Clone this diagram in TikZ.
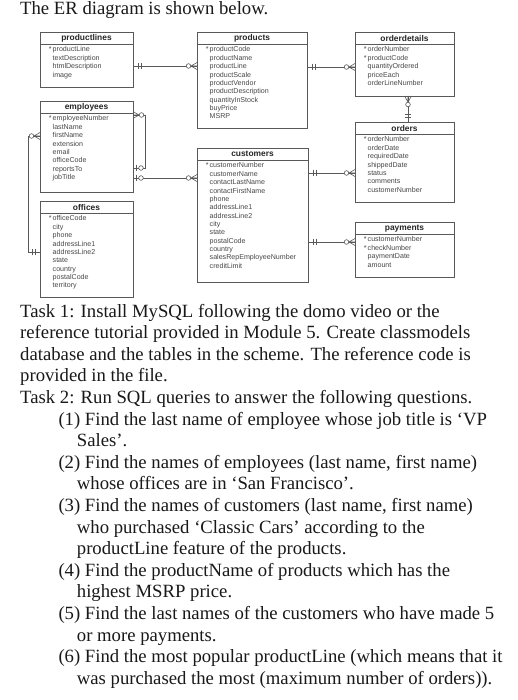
\documentclass[tikz,border=0pt]{standalone}
\usepackage{fontspec}
\setmainfont{Liberation Serif}
\newfontfamily\erfont{Liberation Sans}
\usetikzlibrary{calc}
\newcommand{\pk}{\llap{*\,}}
\newcommand{\erentity}[7]{%
  \node[entity, minimum width=#4pt, minimum height=#5pt] (#1) at (#2,#3) {};
  \node[etitle] (#1-t) at ($(#1.north)+(0,6.2)$) {#6};
  \draw[conn] ($(#1.north west)+(0,12)$) -- ($(#1.north east)+(0,12)$);
  \foreach \a [count=\i] in {#7} {\node[attr] (#1-\i) at ($(#1.north west)+(12.5,{20+(\i-1)*8.35})$) {\a};}
}
\begin{document}
\begin{tikzpicture}[x=1pt,y=-1pt,
  entity/.style={draw=black!65, line width=0.7pt, anchor=north west, inner sep=0pt, outer sep=0pt},
  etitle/.style={font=\erfont\bfseries\fontsize{8.4}{9}\selectfont, text=black!85, inner sep=0pt},
  attr/.style={font=\erfont\fontsize{7.1}{8}\selectfont, text=black!72, inner sep=0pt, anchor=base west},
  conn/.style={draw=black!65, line width=0.6pt},
  body/.style={font=\fontsize{18.7}{21.6}\selectfont, anchor=base west, inner sep=0pt, text=black!90},
  one/.pic={\draw[conn] (5,-3.3)--(5,3.3) (8,-3.3)--(8,3.3);},
  zmany/.pic={\draw[conn] (0,-3.5)--(6,0)--(0,3.5) (0,0)--(6,0); \draw[conn, fill=white] (8.5,0) circle[radius=2.3pt];},
  zone/.pic={\draw[conn] (3.5,-3.3)--(3.5,3.3); \draw[conn, fill=white] (8,0) circle[radius=2.3pt];}
]
\fill[white] (0,0) rectangle (518,700);
\useasboundingbox (0,0) rectangle (518,700);

% title
\node[body] (title) at (20,15) {The ER diagram is shown below.};

% entities
\erentity{pl}{40}{32}{93}{55}{productlines}{\pk productLine, textDescription, htmlDescription, image}
\erentity{em}{40}{101}{93}{91}{employees}{\pk employeeNumber, lastName, firstName, extension, email, officeCode, reportsTo, jobTitle}
\erentity{of}{40}{201}{93}{96}{offices}{\pk officeCode, city, phone, addressLine1, addressLine2, state, country, postalCode, territory}
\erentity{pr}{197}{32}{110}{96}{products}{\pk productCode, productName, productLine, productScale, productVendor, productDescription, quantityInStock, buyPrice, MSRP}
\erentity{cu}{197}{148}{111}{134}{customers}{\pk customerNumber, customerName, contactLastName, contactFirstName, phone, addressLine1, addressLine2, city, state, postalCode, country, salesRepEmployeeNumber, creditLimit}
\erentity{od}{355}{32}{99}{64}{orderdetails}{\pk orderNumber, \pk productCode, quantityOrdered, priceEach, orderLineNumber}
\erentity{ord}{355}{122}{99}{80}{orders}{\pk orderNumber, orderDate, requiredDate, shippedDate, status, comments, customerNumber}
\erentity{pa}{355}{222}{99}{55}{payments}{\pk customerNumber, \pk checkNumber, paymentDate, amount}

% connector end points
\coordinate (c1a) at ($(pl.north east)+(0,34)$);
\coordinate (c1b) at ($(pr.north west)+(0,34)$);
\coordinate (c2a) at ($(pr.north east)+(0,35)$);
\coordinate (c2b) at ($(od.north west)+(0,35)$);
\coordinate (c3a) at ($(od.south west)+(53,0)$);
\coordinate (c3b) at ($(ord.north west)+(53,0)$);
\coordinate (c4a) at ($(cu.north east)+(0,25)$);
\coordinate (c4b) at ($(ord.north west)+(0,51)$);
\coordinate (c5a) at ($(cu.north east)+(0,94)$);
\coordinate (c5b) at ($(pa.north west)+(0,20)$);
\coordinate (c6a) at ($(em.north east)+(0,77)$);
\coordinate (c6b) at ($(cu.north west)+(0,30)$);
\coordinate (c7a) at ($(em.north east)+(0,14)$);
\coordinate (c7b) at ($(em.north east)+(0,67)$);
\coordinate (c8a) at ($(em.north west)+(0,35)$);
\coordinate (c8b) at ($(of.north west)+(0,51)$);

% connectors
\draw[conn] (c1a) -- (c1b);
\draw[conn] (c2a) -- (c2b);
\draw[conn] (c3a) -- (c3b);
\draw[conn] (c4a) -- (c4b);
\draw[conn] (c5a) -- (c5b);
\draw[conn] (c6a) -- (c6b);
\draw[conn] (c7a) -- ++(12,0) |- (c7b);
\draw[conn] (c8a) -- ++(-12,0) |- (c8b);

% cardinality marks
\pic at (c1a) {one};            \pic[rotate=180] at (c1b) {zmany};
\pic at (c2a) {one};            \pic[rotate=180] at (c2b) {zmany};
\pic[rotate=-90] at (c3a) {zmany}; \pic[rotate=90] at (c3b) {one};
\pic at (c4a) {one};            \pic[rotate=180] at (c4b) {zmany};
\pic at (c5a) {one};            \pic[rotate=180] at (c5b) {zmany};
\pic at (c6a) {zone};           \pic[rotate=180] at (c6b) {zmany};
\pic at (c7a) {zmany};          \pic at (c7b) {zone};
\pic[rotate=180] at (c8a) {zmany}; \pic[rotate=180] at (c8b) {one};

% task text
\node[body] (t1)  at (20,317.0) {Task 1: Install MySQL following the domo video or the};
\node[body] (t2)  at (20,338.6) {reference tutorial provided in Module 5. Create classmodels};
\node[body] (t3)  at (20,360.2) {database and the tables in the scheme. The reference code is};
\node[body] (t4)  at (20,381.8) {provided in the file.};
\node[body] (t5)  at (20,403.4) {Task 2: Run SQL queries to answer the following questions.};
\node[body] (t6)  at (58.3,425.0) {(1) Find the last name of employee whose job title is ‘VP};
\node[body] (t7)  at (76.7,446.6) {Sales’.};
\node[body] (t8)  at (58.3,468.2) {(2) Find the names of employees (last name, first name)};
\node[body] (t9)  at (76.7,489.8) {whose offices are in ‘San Francisco’.};
\node[body] (t10) at (58.3,511.4) {(3) Find the names of customers (last name, first name)};
\node[body] (t11) at (76.7,533.0) {who purchased ‘Classic Cars’ according to the};
\node[body] (t12) at (76.7,554.6) {productLine feature of the products.};
\node[body] (t13) at (58.3,576.2) {(4) Find the productName of products which has the};
\node[body] (t14) at (76.7,597.8) {highest MSRP price.};
\node[body] (t15) at (58.3,619.4) {(5) Find the last names of the customers who have made 5};
\node[body] (t16) at (76.7,641.0) {or more payments.};
\node[body] (t17) at (58.3,662.6) {(6) Find the most popular productLine (which means that it};
\node[body] (t18) at (76.7,684.2) {was purchased the most (maximum number of orders)).};
\end{tikzpicture}
\end{document}
